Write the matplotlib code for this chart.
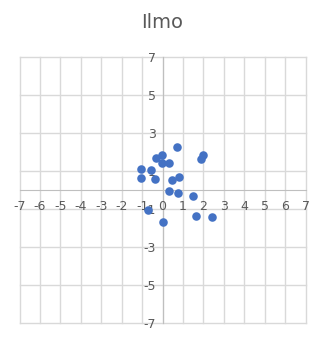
import matplotlib
matplotlib.use("Agg")
import matplotlib.pyplot as plt

title = "Ilmo"
x_vals = [0.69, -0.31, -0.05, -0.05, 0.29, 1.86, 1.99, -1.08, -0.56, -1.08,
          -0.39, 0.44, 0.82, 0.33, 0.77, 1.50, -0.69, 0.00, 1.62, 2.43]
y_vals = [2.26, 1.72, 1.84, 1.46, 1.46, 1.67, 1.84, 1.14, 1.07, 0.67,
          0.60, 0.54, 0.72, -0.02, -0.16, -0.28, -1.04, -1.65, -1.35, -1.39]
x_ticks = list(range(-7, 8))
y_ticks = [-7, -5, -3, -1, 1, 3, 5, 7]

W, H = 324, 337
fig = plt.figure(figsize=(W / 100, H / 100), dpi=100)
ax = fig.add_axes([19.5 / W, (H - 323.3) / H, (305.7 - 19.5) / W, (323.3 - 57.3) / H])
ax.set_xlim(-7, 7)
ax.set_ylim(-7, 7)

grid_c = "#D9D9D9"
for xv in x_ticks:
    ax.axvline(xv, color=grid_c, lw=1, zorder=0, clip_on=False)
for yv in y_ticks:
    ax.axhline(yv, color=grid_c, lw=1, zorder=0, clip_on=False)

for s in ["top", "right"]:
    ax.spines[s].set_visible(False)
ax.spines["left"].set_position(("data", 0))
ax.spines["bottom"].set_position(("data", 0))
ax.spines["left"].set_color("#BFBFBF")
ax.spines["bottom"].set_color("#BFBFBF")
ax.spines["left"].set_zorder(1)
ax.spines["bottom"].set_zorder(1)

ax.set_xticks(x_ticks)
ax.set_yticks(y_ticks)
ax.set_xticklabels([str(v) for v in x_ticks])
ax.set_yticklabels([str(v) for v in y_ticks])
ax.tick_params(axis="both", length=0, labelsize=9, labelcolor="#595959")
ax.tick_params(axis="x", pad=7)
ax.tick_params(axis="y", pad=5)

ax.scatter(x_vals, y_vals, s=38, color="#4472C4", zorder=3, clip_on=False, linewidths=0)

fig.text(0.5, (H - 22) / H, title, ha="center", va="center", fontsize=14, color="#595959")

fig.savefig("out.png", dpi=100, facecolor="white")
